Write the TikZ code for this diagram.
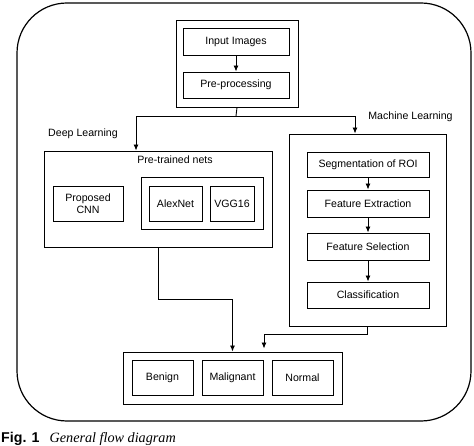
\documentclass[tikz,border=0pt]{standalone}
\usepackage{fontspec}
\setmainfont{Liberation Sans}
\newfontfamily\capfont{Liberation Serif}
\usetikzlibrary{positioning,arrows.meta}

\begin{document}
\begin{tikzpicture}[x=1pt,y=-1pt,
  box/.style={draw,line width=0.9pt,inner sep=0pt,align=center,font=\fontsize{10.6}{12}\selectfont},
  frame/.style={draw,line width=0.9pt,inner sep=0pt},
  lbl/.style={inner sep=0pt,font=\fontsize{10.6}{12}\selectfont},
  arr/.style={line width=0.9pt,-{Latex[length=6pt,width=5pt]}}]
\useasboundingbox (0,0) rectangle (474,446);

% Outer rounded frame
\draw[line width=1.2pt,rounded corners=50pt] (17,3) rectangle (471,421);

% Input part
\node[frame,minimum width=122,minimum height=87] (grp) at (237,63.5) {};
\node[box,minimum width=106,minimum height=27] (inp) at (236,41.5) {Input Images};
\node[box,minimum width=106,minimum height=26] (pre) at (236,85) {Pre-processing};
\draw[arr] (inp) -- (pre);

% Deep learning part
\node[lbl] (dltxt) at (83,134) {Deep Learning};
\node[frame,minimum width=228,minimum height=96] (dl) at (158,199) {};
\node[lbl] (pttxt) at (175,160) {Pre-trained nets};
\node[box,minimum width=70,minimum height=35] (cnn) at (88,203.5) {Proposed\\CNN};
\node[frame,minimum width=122,minimum height=52] (nets) at (202,203) {};
\node[box,minimum width=53,minimum height=35] (alex) at (175.5,203.5) {AlexNet};
\node[box,minimum width=44,minimum height=35] (vgg) at (232,203.5) {VGG16};

% Machine learning part
\node[lbl] (mltxt) at (410.5,117) {Machine Learning};
\node[frame,minimum width=157,minimum height=192] (ml) at (367.5,230) {};
\node[box,minimum width=122,minimum height=25] (seg) at (368,164.5) {Segmentation of ROI};
\node[box,minimum width=122,minimum height=27] (fext) at (368,203.5) {Feature Extraction};
\node[box,minimum width=122,minimum height=27] (fsel) at (368,246.5) {Feature Selection};
\node[box,minimum width=122,minimum height=26] (cls) at (368,295) {Classification};
\foreach \a/\b in {seg/fext,fext/fsel,fsel/cls}{
  \draw[arr] (\a) -- (\b);
}

% Output classes
\node[frame,minimum width=219,minimum height=52] (res) at (232.5,378) {};
\node[box,minimum width=61,minimum height=35] (ben) at (162.5,377.5) {Benign};
\node[box,minimum width=61,minimum height=35] (mal) at (232.5,377.5) {Malignant};
\node[box,minimum width=61,minimum height=35] (nor) at (302.5,377.5) {Normal};

% Connectors between the parts
\coordinate (split) at (236,116);
\draw[line width=0.9pt] (grp.south) -- (split);
\draw[arr] (split) -| ([xshift=-22pt]dl.north);
\draw[arr] (split) -| ([xshift=-12.5pt]ml.north);
\draw[arr] (dl.south) -- ++(0,52) -| (res.north);
\draw[arr] (ml.south) -- ++(0,8) -| ([xshift=31.5pt,yshift=3pt]res.north);

% Caption
\node[anchor=base west,inner sep=0pt] (cap) at (1,442.3)
  {\fontsize{14.2}{16}\selectfont\textbf{Fig. 1}\hspace{10pt}{\capfont\itshape General flow diagram}};
\end{tikzpicture}
\end{document}
